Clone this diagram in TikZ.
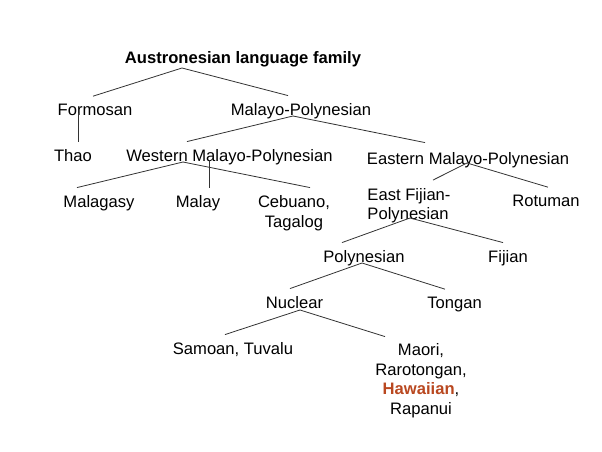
\documentclass[tikz,border=0pt]{standalone}
\usepackage{fontspec}
\setmainfont{Liberation Sans}
\definecolor{hawaii}{RGB}{185,72,32}
\newcommand{\langfont}{\fontsize{16.6}{19.5}\selectfont}

\begin{document}
\begin{tikzpicture}[x=1pt,y=-1pt,
    lang/.style={inner sep=0pt,anchor=south,align=center,text depth=0pt,font=\langfont},
    branch/.style={draw,line width=0.8pt,black!80}]
    \useasboundingbox (0,0) rectangle (602,452);

    \node[lang,font=\langfont\bfseries] (aus) at (243,64) {Austronesian language family};

    \node[lang] (form) at (95,116) {Formosan};
    \node[lang] (mp) at (301,116) {Malayo-Polynesian};

    \node[lang] (thao) at (73,162) {Thao};
    \node[lang] (wmp) at (229.5,162) {Western Malayo-Polynesian};
    \node[lang] (emp) at (468,165) {Eastern Malayo-Polynesian};

    \node[lang] (malg) at (99,208) {Malagasy};
    \node[lang] (maly) at (198,208) {Malay};
    \node[lang] (ceb) at (294,227.5) {Cebuano,\\Tagalog};
    \node[lang,align=left] (efp) at (409,220) {East Fijian-\\Polynesian};
    \node[lang] (rot) at (546,207) {Rotuman};

    \node[lang] (poly) at (364,263) {Polynesian};
    \node[lang] (fij) at (508,263) {Fijian};

    \node[lang] (nuc) at (294.5,309) {Nuclear};
    \node[lang] (tong) at (454.5,309) {Tongan};

    \node[lang] (sam) at (233,355) {Samoan, Tuvalu};
    \node[lang] (maori) at (421,414.5) {Maori,\\Rarotongan,\\{\bfseries\color{hawaii}Hawaiian},\\Rapanui};

    \path[branch] ([xshift=-61pt,yshift=-4pt]aus.south) edge ([xshift=-2pt,yshift=8pt]form.north)
        edge ([xshift=-13pt,yshift=8pt]mp.north);
    \path[branch] ([xshift=-17pt,yshift=3pt]form.south) edge ([xshift=5pt,yshift=8pt]thao.north);

    \path[branch] ([xshift=-8pt]mp.south) edge ([xshift=-42.5pt,yshift=8pt]wmp.north)
        edge ([xshift=-43pt,yshift=10pt]emp.north);

    \path[branch] ([xshift=-46.5pt]wmp.south) edge ([xshift=-22pt,yshift=8pt]malg.north)
        edge ([xshift=16pt,yshift=8pt]ceb.north);
    \path[branch] ([xshift=-20.5pt,yshift=2pt]wmp.south) edge ([xshift=11pt,yshift=8pt]maly.north);

    \path[branch] ([xshift=-1pt,yshift=2pt]emp.south) edge ([xshift=24pt,yshift=8pt]efp.north)
        edge ([xshift=2pt,yshift=8pt]rot.north);
    \path[branch] ([xshift=1pt,yshift=2pt]efp.south) edge ([xshift=-22pt,yshift=8pt]poly.north)
        edge ([xshift=-5pt,yshift=8pt]fij.north);
    \path[branch] ([xshift=-2pt]poly.south) edge ([xshift=-4.5pt,yshift=8pt]nuc.north)
        edge ([xshift=-9.5pt,yshift=8pt]tong.north);
    \path[branch] ([xshift=5.5pt,yshift=-1pt]nuc.south) edge ([xshift=-8pt,yshift=8pt]sam.north)
        edge ([xshift=-36pt,yshift=7pt]maori.north);
\end{tikzpicture}
\end{document}
